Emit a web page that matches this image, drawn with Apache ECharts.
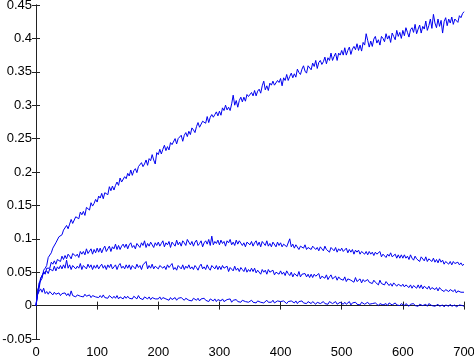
<!DOCTYPE html>
<html>
<head>
<meta charset="utf-8">
<script src="https://cdn.jsdelivr.net/npm/echarts@6/dist/echarts.min.js"></script>
<style>
	html, body { margin:0; padding:0; background:#fff; }
	#chart { width:474px; height:357px; }
</style>
</head>
<body>
<div id="chart"></div>
<script>
// traces are sampled every 2.5 on x (0 .. 700), one row = 50 units of x
var stepX = 2.5;

// top curve
var curveA = [
	0.000,0.017,0.034,0.037,0.041,0.053,0.056,0.060,0.072,0.070,0.079,0.086,0.084,0.094,0.096,0.103,0.102,0.106,0.113,0.111,
	0.120,0.115,0.122,0.129,0.123,0.122,0.133,0.132,0.130,0.140,0.136,0.141,0.135,0.147,0.147,0.143,0.154,0.149,0.153,0.159,
	0.155,0.164,0.161,0.168,0.160,0.169,0.169,0.166,0.178,0.172,0.179,0.173,0.180,0.185,0.180,0.191,0.185,0.184,0.193,0.190,
	0.198,0.194,0.203,0.195,0.202,0.205,0.199,0.208,0.206,0.214,0.208,0.212,0.218,0.210,0.220,0.217,0.226,0.218,0.212,0.229,
	0.226,0.234,0.227,0.234,0.240,0.232,0.238,0.233,0.244,0.241,0.241,0.250,0.242,0.250,0.248,0.255,0.246,0.255,0.259,0.253,
	0.261,0.256,0.266,0.263,0.259,0.268,0.274,0.267,0.267,0.276,0.275,0.273,0.283,0.274,0.282,0.286,0.282,0.286,0.290,0.284,
	0.291,0.285,0.296,0.292,0.300,0.293,0.297,0.292,0.302,0.315,0.300,0.307,0.297,0.307,0.312,0.305,0.312,0.306,0.316,0.313,
	0.311,0.319,0.314,0.322,0.314,0.321,0.324,0.318,0.329,0.336,0.323,0.329,0.322,0.333,0.330,0.336,0.330,0.328,0.337,0.334,
	0.340,0.329,0.341,0.337,0.346,0.337,0.343,0.348,0.341,0.347,0.342,0.354,0.349,0.346,0.354,0.359,0.351,0.348,0.359,0.357,
	0.353,0.363,0.358,0.367,0.355,0.364,0.367,0.361,0.365,0.372,0.362,0.371,0.367,0.378,0.367,0.373,0.378,0.367,0.378,0.375,
	0.382,0.375,0.386,0.375,0.382,0.387,0.376,0.384,0.388,0.383,0.392,0.382,0.390,0.381,0.394,0.390,0.407,0.397,0.387,0.396,
	0.388,0.399,0.403,0.393,0.398,0.390,0.403,0.400,0.395,0.407,0.399,0.404,0.394,0.408,0.403,0.398,0.412,0.403,0.409,0.400,
	0.412,0.404,0.416,0.409,0.402,0.413,0.416,0.409,0.421,0.407,0.414,0.420,0.408,0.418,0.414,0.426,0.412,0.419,0.429,0.415,
	0.436,0.423,0.416,0.429,0.418,0.427,0.408,0.425,0.431,0.419,0.429,0.423,0.432,0.421,0.429,0.428,0.424,0.434,0.431,0.437,
	0.440
];
// second curve, flat top near x = 300
var curveB = [
	0.000,0.017,0.025,0.040,0.040,0.050,0.047,0.056,0.057,0.056,0.065,0.062,0.067,0.062,0.069,0.069,0.066,0.074,0.069,0.075,
	0.070,0.077,0.074,0.070,0.078,0.080,0.074,0.077,0.072,0.081,0.077,0.081,0.076,0.085,0.078,0.080,0.085,0.077,0.084,0.079,
	0.086,0.080,0.086,0.079,0.085,0.089,0.081,0.085,0.089,0.081,0.088,0.085,0.092,0.084,0.090,0.084,0.089,0.092,0.087,0.092,
	0.085,0.091,0.094,0.087,0.090,0.085,0.093,0.091,0.087,0.094,0.090,0.097,0.087,0.093,0.089,0.095,0.091,0.087,0.094,0.090,
	0.095,0.089,0.093,0.097,0.088,0.094,0.091,0.096,0.087,0.095,0.092,0.089,0.098,0.091,0.095,0.089,0.097,0.094,0.090,0.099,
	0.101,0.091,0.096,0.089,0.095,0.098,0.090,0.093,0.097,0.088,0.094,0.097,0.092,0.099,0.090,0.104,0.091,0.096,0.093,0.098,
	0.091,0.098,0.093,0.096,0.089,0.097,0.094,0.099,0.091,0.095,0.090,0.098,0.092,0.097,0.099,0.090,0.094,0.088,0.095,0.097,
	0.091,0.096,0.089,0.094,0.097,0.090,0.095,0.088,0.096,0.093,0.090,0.097,0.089,0.093,0.088,0.095,0.093,0.088,0.095,0.090,
	0.094,0.088,0.092,0.094,0.088,0.086,0.100,0.088,0.092,0.086,0.091,0.092,0.084,0.089,0.091,0.086,0.091,0.084,0.087,0.089,
	0.084,0.089,0.090,0.084,0.087,0.082,0.088,0.085,0.082,0.089,0.084,0.086,0.080,0.087,0.085,0.082,0.087,0.080,0.085,0.082,
	0.086,0.081,0.083,0.086,0.079,0.084,0.080,0.084,0.077,0.083,0.080,0.083,0.077,0.081,0.083,0.077,0.081,0.076,0.081,0.077,
	0.080,0.075,0.080,0.077,0.075,0.081,0.073,0.077,0.079,0.072,0.077,0.074,0.079,0.073,0.075,0.077,0.071,0.076,0.071,0.076,
	0.071,0.076,0.071,0.074,0.069,0.076,0.071,0.068,0.074,0.070,0.072,0.066,0.073,0.071,0.067,0.073,0.066,0.070,0.071,0.066,
	0.071,0.065,0.069,0.064,0.070,0.065,0.068,0.062,0.066,0.068,0.062,0.066,0.061,0.066,0.063,0.061,0.065,0.061,0.064,0.060,
	0.062
];
// third curve
var curveC = [
	0.000,0.023,0.029,0.041,0.039,0.049,0.047,0.052,0.048,0.055,0.053,0.052,0.059,0.052,0.058,0.055,0.060,0.055,0.061,0.056,
	0.068,0.056,0.061,0.054,0.060,0.062,0.055,0.059,0.056,0.063,0.054,0.060,0.058,0.055,0.062,0.057,0.061,0.054,0.060,0.056,
	0.061,0.055,0.059,0.062,0.056,0.060,0.054,0.061,0.057,0.062,0.055,0.058,0.061,0.054,0.060,0.063,0.056,0.059,0.055,0.061,
	0.056,0.061,0.054,0.060,0.058,0.055,0.062,0.057,0.060,0.054,0.061,0.059,0.066,0.055,0.060,0.056,0.062,0.055,0.059,0.061,
	0.055,0.060,0.062,0.056,0.059,0.054,0.061,0.057,0.060,0.063,0.054,0.057,0.053,0.060,0.058,0.055,0.061,0.054,0.059,0.056,
	0.061,0.055,0.058,0.054,0.060,0.057,0.053,0.059,0.062,0.055,0.058,0.054,0.061,0.056,0.053,0.060,0.058,0.055,0.060,0.054,
	0.059,0.054,0.060,0.056,0.054,0.059,0.051,0.057,0.056,0.052,0.059,0.053,0.056,0.051,0.057,0.054,0.051,0.057,0.050,0.054,
	0.051,0.056,0.051,0.056,0.049,0.053,0.053,0.047,0.054,0.050,0.053,0.047,0.054,0.050,0.048,0.053,0.046,0.050,0.051,0.047,
	0.052,0.047,0.050,0.045,0.052,0.048,0.045,0.050,0.043,0.048,0.050,0.044,0.051,0.043,0.047,0.045,0.048,0.043,0.047,0.042,
	0.047,0.042,0.047,0.044,0.042,0.048,0.040,0.044,0.045,0.041,0.046,0.039,0.043,0.046,0.040,0.042,0.044,0.038,0.043,0.040,
	0.042,0.038,0.043,0.036,0.040,0.042,0.038,0.040,0.035,0.042,0.036,0.038,0.040,0.034,0.039,0.036,0.034,0.039,0.035,0.037,
	0.033,0.038,0.035,0.036,0.031,0.038,0.033,0.035,0.031,0.036,0.038,0.030,0.033,0.029,0.034,0.034,0.029,0.032,0.034,0.029,
	0.032,0.028,0.031,0.032,0.027,0.031,0.026,0.030,0.028,0.026,0.031,0.026,0.031,0.025,0.029,0.031,0.025,0.029,0.024,0.027,
	0.028,0.024,0.027,0.022,0.027,0.024,0.026,0.021,0.024,0.026,0.021,0.024,0.022,0.021,0.024,0.019,0.022,0.023,0.020,0.021,
	0.020
];
// bottom curve
var curveD = [
	0.000,0.016,0.021,0.025,0.020,0.026,0.018,0.021,0.017,0.021,0.019,0.016,0.020,0.017,0.019,0.019,0.015,0.018,0.016,0.019,
	0.015,0.018,0.014,0.022,0.015,0.017,0.013,0.016,0.017,0.014,0.016,0.013,0.017,0.014,0.013,0.016,0.012,0.015,0.016,0.013,
	0.015,0.012,0.015,0.012,0.016,0.012,0.013,0.011,0.015,0.014,0.011,0.014,0.011,0.015,0.010,0.013,0.012,0.010,0.014,0.011,
	0.014,0.011,0.013,0.010,0.014,0.012,0.010,0.015,0.011,0.013,0.009,0.013,0.011,0.010,0.013,0.009,0.012,0.013,0.010,0.011,
	0.010,0.013,0.009,0.012,0.013,0.010,0.011,0.008,0.012,0.009,0.011,0.012,0.008,0.011,0.009,0.012,0.010,0.008,0.011,0.012,
	0.008,0.010,0.007,0.011,0.009,0.008,0.011,0.007,0.010,0.009,0.011,0.008,0.009,0.006,0.010,0.008,0.007,0.010,0.006,0.009,
	0.009,0.007,0.010,0.006,0.008,0.009,0.007,0.010,0.005,0.008,0.007,0.009,0.006,0.008,0.005,0.008,0.009,0.006,0.007,0.005,
	0.007,0.008,0.005,0.006,0.004,0.007,0.008,0.005,0.007,0.004,0.006,0.008,0.005,0.007,0.005,0.008,0.004,0.006,0.007,0.005,
	0.006,0.004,0.007,0.005,0.003,0.006,0.004,0.007,0.005,0.004,0.007,0.003,0.006,0.005,0.007,0.004,0.006,0.003,0.006,0.005,
	0.003,0.006,0.004,0.002,0.005,0.006,0.003,0.004,0.006,0.003,0.005,0.002,0.006,0.004,0.003,0.005,0.006,0.002,0.004,0.005,
	0.003,0.002,0.005,0.002,0.004,0.006,0.001,0.004,0.003,0.005,0.002,0.004,0.001,0.005,0.003,0.002,0.004,0.005,0.002,0.003,
	0.003,0.001,0.004,0.002,0.000,0.003,0.004,0.001,0.002,0.003,0.000,0.004,0.002,0.001,0.003,0.004,0.001,0.002,0.000,0.003,
	0.002,0.000,0.003,0.001,-0.001,0.002,0.001,0.003,0.000,0.002,-0.001,0.002,0.003,0.000,0.001,0.002,-0.001,0.003,0.001,0.000,
	0.001,-0.001,0.001,0.002,-0.001,0.000,0.001,-0.002,0.001,0.000,-0.001,0.002,-0.001,0.000,0.001,-0.002,0.000,0.001,-0.001,0.000,
	-0.001
];

var xRange = [0, 700];
var yRange = [-0.05, 0.45];

function toPairs(values){
	var pts = [];
	for(var i = 0; i < values.length; i++){
		pts.push([i * stepX, values[i]]);
	}
	return pts;
}

function lineSeries(values){
	return {
		type: 'line',
		data: toPairs(values),
		showSymbol: false,
		animation: false,
		lineStyle: { color: '#0000f0', width: 1 },
		xAxisIndex: 0,
		yAxisIndex: 0
	};
}

// matlab style box: ticks pointing inward on all four sides
var frameLine = { show: true, lineStyle: { color: '#222', width: 1 } };
var inTick = { show: true, inside: true, length: 4, lineStyle: { color: '#222' } };
var labelFont = { color: '#000', fontSize: 13, fontFamily: 'Liberation Sans, Arial, sans-serif' };

var option = {
	backgroundColor: '#fff',
	animation: false,
	// labels are allowed to run off the canvas, like the original
	grid: { left: 36, right: 10, top: 5, bottom: 18, containLabel: false, outerBoundsMode: 'none' },
	xAxis: [{
		type: 'value', position: 'bottom', min: xRange[0], max: xRange[1], interval: 100,
		axisLine: frameLine, axisTick: inTick, splitLine: { show: false },
		axisLabel: Object.assign({ margin: 7, showMinLabel: true, showMaxLabel: true, hideOverlap: false }, labelFont)
	},{
		type: 'value', position: 'top', min: xRange[0], max: xRange[1], interval: 100,
		axisLine: frameLine, axisTick: inTick, splitLine: { show: false }, axisLabel: { show: false }
	}],
	yAxis: [{
		type: 'value', position: 'left', min: yRange[0], max: yRange[1], interval: 0.05,
		axisLine: frameLine, axisTick: inTick, splitLine: { show: false },
		axisLabel: Object.assign({ margin: 4, showMinLabel: true, showMaxLabel: true }, labelFont)
	},{
		type: 'value', position: 'right', min: yRange[0], max: yRange[1], interval: 0.05,
		axisLine: frameLine, axisTick: inTick, splitLine: { show: false }, axisLabel: { show: false }
	}],
	series: [
		lineSeries(curveA),
		lineSeries(curveB),
		lineSeries(curveC),
		lineSeries(curveD)
	]
};

var myChart = echarts.init(document.getElementById('chart'), null, { renderer: 'canvas' });
myChart.setOption(option);
</script>
</body>
</html>
